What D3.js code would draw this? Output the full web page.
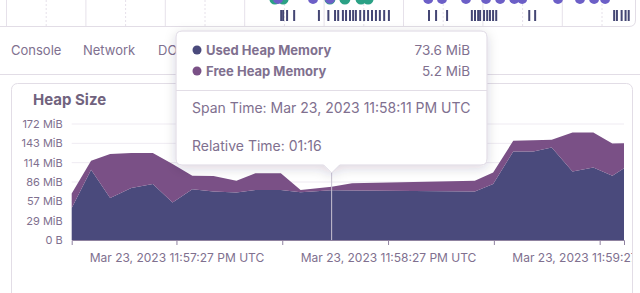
<!DOCTYPE html>
<html>
<head>
<meta charset="utf-8">
<script src="https://cdn.jsdelivr.net/npm/d3@7"></script>
<style>
  body { margin: 0; background: #fff; }
  svg { display: block; font-family: Inter, "Noto Sans", sans-serif; }
</style>
</head>
<body>
<svg id="chart" width="640" height="293"></svg>
<script>
// Replay memory panel: stacked heap size (used + free) over the replay.
const traceStart = Date.UTC(2023, 2, 23, 23, 56, 55); // relative time 00:00

// samples, seconds after traceStart
const sampleSeconds = [2.3, 7.8, 13.2, 19.2, 25.3, 30.9, 36.5, 42.5, 49.0, 54.4, 61.6, 67.2,
  76.0, 81.8, 116.6, 121.8, 127.5, 133.2, 138.4, 144.3, 150.2, 155.6, 158.9];
const usedHeapMiB = [47.4, 103.8, 62.3, 77.1, 83.0, 55.3, 74.9, 71.9, 70.1, 74.1, 74.1, 70.7,
  73.6, 73.1, 71.6, 83.0, 130.9, 130.9, 136.9, 101.3, 107.2, 95.2, 106.3];
const freeHeapMiB = [21.3, 13.3, 64.8, 51.5, 45.6, 57.1, 20.0, 22.6, 17.4, 24.8, 24.8, 3.4,
  5.2, 10.7, 15.9, 16.8, 15.9, 16.6, 11.4, 57.8, 51.9, 47.4, 36.8];
const seriesNames = ["Used Heap Memory", "Free Heap Memory"];

const yMaxMiB = 171.6;
const yTickLabels = ["0 B", "29 MiB", "57 MiB", "86 MiB", "114 MiB", "143 MiB", "172 MiB"];
const xTickSeconds = [32, 62, 92, 122, 152];   // 11:57:27 PM + every 30s
const hoverIndex = 12;

// top replay timeline (seconds on the replay scrubber)
const timelineSeconds = [0, 160];
const crumbSeconds = [70.0, 70.5, 71.5, 73.3, 79.6, 82.0, 83.7, 84.5, 85.7, 86.5, 87.5, 88.3, 89.0,
  90.1, 91.1, 92.1, 93.1, 94.1, 95.1, 96.2, 97.4, 107.6, 109.4, 112.2, 118.5, 119.3, 120.1, 120.6,
  121.6, 122.4, 123.1, 123.9, 124.7, 133.1, 134.6, 154.7, 155.4, 156.6, 157.6, 158.4];
const greenDotSeconds = [68.4, 70.5, 82.4, 86.2, 90.3, 92.1];
const purpleDotSeconds = [69.2, 78.1, 82.4, 107.4, 110.9, 117.0, 122.1, 125.7, 129.3, 131.3,
  140.4, 146.0, 149.6, 152.4];

const tabs = ["Console", "Network", "DOM Events"];

const colors = { used: "#4a4a7c", free: "#7a5086", text: "#80708f", border: "#e2dde6" };

const svg = d3.select("#chart");
const defs = svg.append("defs");
const shadow = defs.append("filter").attr("id", "shadow")
  .attr("x", -0.2).attr("y", -0.3).attr("width", 1.4).attr("height", 1.6);
shadow.append("feDropShadow").attr("dx", 0).attr("dy", 3).attr("stdDeviation", 6)
  .attr("flood-color", "#2b1d38").attr("flood-opacity", 0.16);
defs.append("clipPath").attr("id", "card-clip")
  .append("rect").attr("x", 12).attr("y", 84).attr("width", 620).attr("height", 240);

// ---- replay timeline strip ----
const tl = d3.scaleLinear().domain(timelineSeconds).range([6, 635]);
const strip = svg.append("g");
strip.selectAll("line.grid").data(d3.range(16)).join("line")
  .attr("x1", i => 6.5 + i * 39.7).attr("x2", i => 6.5 + i * 39.7)
  .attr("y1", 0).attr("y2", 26)
  .attr("stroke", "#e6e1ea")
  .attr("stroke-dasharray", i => i % 2 ? "2,2" : null);
strip.append("path")
  .attr("d", "M0,26.5 H629 Q635.5,26.5 635.5,20 V0")
  .attr("fill", "none").attr("stroke", colors.border);
strip.selectAll("circle.green").data(greenDotSeconds).join("circle")
  .attr("cx", d => tl(d)).attr("cy", -1).attr("r", 5.5).attr("fill", "#2ba185");
strip.selectAll("circle.purple").data(purpleDotSeconds).join("circle")
  .attr("cx", d => tl(d)).attr("cy", -1).attr("r", 5).attr("fill", "#6c5fc7");
strip.selectAll("rect.crumb").data(crumbSeconds).join("rect")
  .attr("x", d => tl(d) - 1).attr("y", 10).attr("width", 2).attr("height", 11)
  .attr("fill", "#444674");

// ---- tabs ----
const tabX = [11, 83, 158];
svg.selectAll("text.tab").data(tabs).join("text")
  .attr("x", (d, i) => tabX[i]).attr("y", 50).attr("dy", "0.35em")
  .attr("font-size", 13).attr("fill", colors.text).text(d => d);
svg.append("line").attr("x1", 0).attr("x2", 640).attr("y1", 74.5).attr("y2", 74.5)
  .attr("stroke", colors.border);

// ---- card ----
svg.append("rect").attr("x", 11.5).attr("y", 83.5).attr("width", 621).attr("height", 260)
  .attr("rx", 6).attr("fill", "#fff").attr("stroke", colors.border);
svg.append("text").attr("x", 33).attr("y", 100).attr("dy", "0.35em")
  .attr("font-size", 15).attr("font-weight", 700).attr("fill", "#71637e").text("Heap Size");

const margin = { left: 71.7, right: 624, top: 124, bottom: 240 };
const toDate = s => new Date(traceStart + s * 1000);
const x = d3.scaleUtc().domain(d3.extent(sampleSeconds, toDate)).range([margin.left, margin.right]);
const y = d3.scaleLinear().domain([0, yMaxMiB]).range([margin.bottom, margin.top]);

const rows = sampleSeconds.map((s, i) => ({ date: toDate(s), used: usedHeapMiB[i], free: freeHeapMiB[i] }));
const stacked = d3.stack().keys(["used", "free"])(rows);

const plot = svg.append("g").attr("clip-path", "url(#card-clip)");
const yTicks = yTickLabels.map((_, i) => i * yMaxMiB / 6);

plot.append("g").selectAll("line").data(yTicks.slice(1)).join("line")
  .attr("x1", margin.left).attr("x2", margin.right)
  .attr("y1", d => y(d)).attr("y2", d => y(d))
  .attr("stroke", "#efebf2");

const area = d3.area().x(d => x(d.data.date)).y0(d => y(d[0])).y1(d => y(d[1]));
plot.selectAll("path.area").data(stacked).join("path")
  .attr("d", area)
  .attr("fill", (d, i) => i === 0 ? colors.used : colors.free);

// y labels
plot.append("g")
  .attr("transform", `translate(${margin.left},0)`)
  .call(d3.axisLeft(y).tickValues(yTicks).tickFormat((d, i) => yTickLabels[i]).tickSize(0).tickPadding(9))
  .call(g => g.select(".domain").remove())
  .call(g => g.selectAll("text").attr("font-size", 11).attr("fill", colors.text)
    .attr("font-family", "Inter, sans-serif"));

// x axis
const fmt = d3.utcFormat("%b %-d, %Y %-I:%M:%S %p UTC");
plot.append("g")
  .attr("transform", `translate(0,${margin.bottom})`)
  .call(d3.axisBottom(x).tickValues(xTickSeconds.map(toDate))
    .tickFormat((d, i) => i % 2 ? "" : fmt(d)).tickSizeOuter(0).tickSize(5).tickPadding(8))
  .call(g => g.select(".domain").attr("stroke", "#8f82a0"))
  .call(g => g.selectAll(".tick line").attr("stroke", "#8f82a0"))
  .call(g => g.selectAll("text").attr("font-size", 12).attr("fill", colors.text)
    .attr("font-family", "Inter, sans-serif"));

// hover line
const hx = x(toDate(sampleSeconds[hoverIndex]));
plot.append("line").attr("x1", hx).attr("x2", hx).attr("y1", margin.top).attr("y2", margin.bottom)
  .attr("stroke", "#c9c2d2");

// ---- tooltip ----
const tip = svg.append("g").attr("transform", "translate(176,31)");
const tw = 311, th = 134;
const ax = hx - 176;
tip.append("path")
  .attr("d", `M6,0 H${tw - 6} Q${tw},0 ${tw},6 V${th - 6} Q${tw},${th} ${tw - 6},${th} H${ax + 8} L${ax},${th + 8} L${ax - 8},${th} H6 Q0,${th} 0,${th - 6} V6 Q0,0 6,0 Z`)
  .attr("fill", "#fff").attr("stroke", "#dcd6e2").attr("filter", "url(#shadow)");

const tipRows = [
  { name: seriesNames[0], value: usedHeapMiB[hoverIndex], color: colors.used },
  { name: seriesNames[1], value: freeHeapMiB[hoverIndex], color: colors.free },
];
const row = tip.selectAll("g.row").data(tipRows).join("g")
  .attr("transform", (d, i) => `translate(0,${19 + i * 21})`);
row.append("circle").attr("cx", 21).attr("cy", 0).attr("r", 4.5).attr("fill", d => d.color);
row.append("text").attr("x", 30).attr("dy", "0.35em").attr("font-size", 13).attr("font-weight", 700)
  .attr("fill", colors.text).text(d => d.name);
row.append("text").attr("x", 294).attr("dy", "0.35em").attr("font-size", 13.5).attr("text-anchor", "end")
  .attr("fill", colors.text).text(d => d.value.toFixed(1) + " MiB");
tip.append("line").attr("x1", 0).attr("x2", tw).attr("y1", 59.5).attr("y2", 59.5).attr("stroke", colors.border);

const rel = sampleSeconds[hoverIndex];
const relText = String(Math.floor(rel / 60)).padStart(2, "0") + ":" + String(Math.round(rel % 60)).padStart(2, "0");
tip.append("text").attr("x", 16).attr("y", 77).attr("dy", "0.35em").attr("font-size", 14)
  .attr("fill", colors.text).text("Span Time: " + fmt(toDate(rel)));
tip.append("text").attr("x", 16).attr("y", 115).attr("dy", "0.35em").attr("font-size", 14)
  .attr("fill", colors.text).text("Relative Time: " + relText);
</script>
</body>
</html>
